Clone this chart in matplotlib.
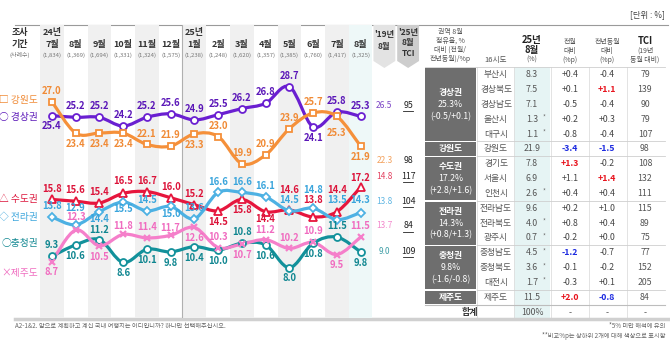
import numpy as np
import matplotlib
matplotlib.use('Agg')
import matplotlib.pyplot as plt
import matplotlib.transforms as mtransforms
from matplotlib.path import Path
from matplotlib.patches import PathPatch, Rectangle, Polygon

plt.rcParams['font.family'] = ['Noto Sans CJK KR', 'DejaVu Sans']

# ---- data -------------------------------------------------------------
years = ['24년', '', '', '', '', '', '25년', '', '', '', '', '', '', '']
months = ['7월', '8월', '9월', '10월', '11월', '12월', '1월', '2월', '3월', '4월', '5월', '6월', '7월', '8월']
samples = ['1,834', '1,369', '1,694', '1,331', '1,324', '1,575', '1,238',
           '1,248', '1,620', '1,357', '1,385', '1,760', '1,417', '1,325']

names = ['경상권', '강원도', '수도권', '전라권', '충청권', '제주도']
gyeongsang = [25.4, 25.2, 25.2, 24.2, 25.2, 25.6, 24.9, 25.5, 26.2, 26.8, 28.7, 24.1, 25.8, 25.3]
gangwon = [27.0, 23.4, 23.4, 23.4, 22.1, 21.9, 23.3, 23.0, 19.9, 20.9, 23.9, 25.7, 25.3, 21.9]
sudo = [15.8, 15.6, 15.4, 16.5, 16.7, 16.0, 15.2, 14.5, 15.8, 14.4, 14.6, 13.8, 14.4, 17.2]
jeolla = [13.8, 12.9, 14.4, 15.5, 14.5, 15.0, 13.6, 16.6, 16.6, 16.1, 14.5, 14.8, 13.5, 14.3]
chungcheong = [9.3, 10.6, 11.2, 8.6, 10.1, 9.8, 10.4, 10.0, 10.8, 10.6, 8.0, 10.8, 11.5, 9.8]
jeju = [8.7, 12.3, 10.5, 11.8, 11.4, 11.7, 12.6, 10.3, 10.7, 11.2, 10.2, 10.9, 9.5, 11.5]
aug19 = [26.5, 22.3, 14.8, 13.8, 9.0, 13.7]
tci = [95, 98, 117, 104, 109, 84]

# table
groups = ['경상권', '강원도', '수도권', '전라권', '충청권', '제주도']
group_share = ['25.3%', '', '17.2%', '14.3%', '9.8%', '']
group_diff = ['(-0.5/+0.1)', '', '(+2.8/+1.6)', '(+0.8/+1.3)', '(-1.6/-0.8)', '']
group_rows = [5, 1, 3, 3, 3, 1]
provinces = ['부산시', '경상북도', '경상남도', '울산시', '대구시', '강원도', '경기도', '서울시',
             '인천시', '전라남도', '전라북도', '광주시', '충청남도', '충청북도', '대전시', '제주도']
share = [8.3, 7.5, 7.1, 1.3, 1.1, 21.9, 7.8, 6.9, 2.6, 9.6, 4.0, 0.7, 4.5, 3.6, 1.7, 11.5]
mom = [0.4, 0.1, -0.5, 0.2, -0.8, -3.4, 1.3, 1.1, 0.4, 0.2, 0.8, -0.2, -1.2, -0.1, -0.3, 2.0]
yoy = [-0.4, 1.1, -0.4, 0.3, -0.4, -1.5, -0.2, 1.4, 0.4, 1.0, 0.4, 0.0, -0.7, -0.2, 0.1, -0.8]
tci16 = [79, 139, 90, 79, 107, 98, 108, 132, 111, 115, 89, 75, 77, 152, 205, 84]

# ---- styles -----------------------------------------------------------
series = [gyeongsang, gangwon, sudo, jeolla, chungcheong, jeju]
line_colors = ['#6a1fd1', '#f5903a', '#e6163d', '#4db1e3', '#12919b', '#f57fca']
text_colors = ['#5b17b8', '#f08a35', '#dc143a', '#3aa5dc', '#0f8690', '#f06cc0']
markers = ['o', 's', '^', 'D', 'o', 'x']
msizes = [5, 5, 5.5, 4.2, 5, 5]
legend_txt = ['○ 경상권', '□ 강원도', '△ 수도권', '◇ 전라권', '○충청권', '×제주도']
legend_dy = [-1, 1, 0, 0, 9.5, -8.5]
# label side: +1 above, -1 below
sides = [
    [-1, 1, 1, 1, 1, 1, 1, 1, 1, 1, 1, -1, 1, 1],
    [1, -1, -1, -1, 1, 1, -1, 1, 1, 1, 1, 1, -1, -1],
    [1, 1, 1, 1, 1, 1, 1, -1, -1, -1, 1, 1, 1, 1],
    [1, 1, -1, -1, 1, -1, 1, 1, 1, 1, 1, 1, 1, 1],
    [1, -1, 1, -1, -1, -1, -1, -1, 1, -1, -1, -1, 1, -1],
    [-1, 1, -1, 1, 1, 1, -1, 1, -1, 1, 1, 1, -1, 1],
]
label_gap = 7.8
gap_override = {(3, 1): 11.8, (5, 1): 9.2, (1, 12): 12, (3, 11): 13, (2, 11): 12,
                (2, 12): 15.5, (3, 12): 14, (2, 10): 14.5, (3, 13): 9, (2, 13): 7,
                (3, 2): 5.2, (4, 2): 7, (2, 9): 4.9, (5, 9): 7, (3, 5): 5.2, (5, 5): 5.5,
                (3, 3): 5, (5, 3): 6.2, (2, 3): 9}
side19_dy = [8, -10, 8, 8, 0.5, 8]

W, H = 670, 341
fig = plt.figure(figsize=(6.7, 3.41), dpi=100)
ov = fig.add_axes([0, 0, 1, 1])
ov.set_xlim(0, W)
ov.set_ylim(H, 0)
ov.axis('off')

ax = fig.add_axes([40 / W, (H - 318) / H, 380 / W, 293 / H])
ax.set_xlim(-0.5, 15.5)
ax.set_ylim(2.24, 35.76)
ax.axis('off')
tr = mtransforms.blended_transform_factory(ax.transData, ov.transData)


def smooth_path(xs, ys):
    pts = np.column_stack([xs, ys]).astype(float)
    n = len(pts)
    verts, codes = [pts[0]], [Path.MOVETO]
    for i in range(n - 1):
        p0, p1 = pts[max(i - 1, 0)], pts[i]
        p2, p3 = pts[i + 1], pts[min(i + 2, n - 1)]
        verts += [p1 + (p2 - p0) / 6, p2 - (p3 - p1) / 6, p2]
        codes += [Path.CURVE4] * 3
    return Path(verts, codes)


# column bands
for i in range(0, 13, 2):
    ax.axvspan(i - 0.5, i + 0.5, color='#f0f0f0', lw=0, zorder=0)
ax.axvspan(12.5, 13.5, color='#eef8f8', lw=0, zorder=0)
ax.axvline(5.5, color='#b0b0b0', lw=0.8, zorder=1)

# header
ov.plot([15, 668], [25, 25], color='#9a9a9a', lw=0.8)
ov.plot([15, 668], [318.5, 318.5], color='#d0d0d0', lw=2.5)
ov.text(20, 32, '조사', ha='center', va='center', fontsize=6.5, fontweight='bold', color='#333')
ov.text(20, 44, '기간', ha='center', va='center', fontsize=6.5, fontweight='bold', color='#333')
ov.text(20, 55, '(사례수)', ha='center', va='center', fontsize=4.3, color='#777')
for i in range(len(months)):
    if years[i]:
        ax.text(i, 32, years[i], transform=tr, ha='center', va='center', fontsize=6.5,
                fontweight='bold', color='#333')
    ax.text(i, 44, months[i], transform=tr, ha='center', va='center', fontsize=6.5,
            fontweight='bold', color='#333')
    ax.text(i, 55, '(' + samples[i] + ')', transform=tr, ha='center', va='center',
            fontsize=4.3, color='#777')

for k, col in [(14, '#e3e3e3'), (15, '#cdcdcd')]:
    ax.add_patch(Polygon([(k - 0.46, 25), (k + 0.46, 25), (k + 0.46, 61), (k, 68), (k - 0.46, 61)],
                         closed=True, fc=col, ec='none', transform=tr, zorder=1))
ax.text(14, 35, "'19년", transform=tr, ha='center', va='center', fontsize=6, fontweight='bold', color='#333')
ax.text(14, 47, '8월', transform=tr, ha='center', va='center', fontsize=6, fontweight='bold', color='#333')
for yy, t in [(32, "'25년"), (43, '8월'), (54, 'TCI')]:
    ax.text(15, yy, t, transform=tr, ha='center', va='center', fontsize=6, fontweight='bold', color='#333')

# lines
x = np.arange(len(months))
for s, vals in enumerate(series):
    c = line_colors[s]
    ax.add_patch(PathPatch(smooth_path(x, vals), fill=False, ec=c, lw=2.3,
                           capstyle='round', joinstyle='round', zorder=3))
    if markers[s] == 'x':
        ax.plot(x, vals, ls='none', marker='x', ms=msizes[s], mec=c, mew=1.6, zorder=4)
    else:
        ax.plot(x, vals, ls='none', marker=markers[s], ms=msizes[s], mfc='white', mec=c,
                mew=1.3, zorder=4)
    for i, v in enumerate(vals):
        gap = gap_override.get((s, i), label_gap)
        ax.annotate(f'{v:.1f}', (i, v), xytext=(0, gap * sides[s][i]), textcoords='offset points',
                    ha='center', va='center', fontsize=6.8, fontweight='bold',
                    color=text_colors[s], zorder=5)
    ax.annotate(legend_txt[s], (0, vals[0]), xytext=(-10, legend_dy[s]), textcoords='offset points',
                ha='right', va='center', fontsize=7, color=text_colors[s])
    ax.annotate(f'{aug19[s]:.1f}', (14, vals[-1]), xytext=(0, side19_dy[s]), textcoords='offset points',
                ha='center', va='center', fontsize=6, style='italic', color=text_colors[s], alpha=0.8)
    ax.annotate(str(tci[s]), (15, vals[-1]), xytext=(0, side19_dy[s]), textcoords='offset points',
                ha='center', va='center', fontsize=6.3, color='#222')
    if names[s] != '강원도':
        ul = mtransforms.offset_copy(ax.transData, fig=fig, x=0, y=side19_dy[s] - 4.2, units='points')
        ax.plot([14.78, 15.22], [vals[-1], vals[-1]], color='#222', lw=0.6, transform=ul)

# ---- table ------------------------------------------------------------
ov.text(665, 15, '[단위 : %]', ha='right', va='center', fontsize=6, color='#444')
hdr = '#555'
for yy, t in [(32, '권역 8월'), (41, '점유율, %'), (50, '대비 (전월/'), (59, '전년동월)/%p')]:
    ov.text(450, yy, t, ha='center', va='center', fontsize=5, color=hdr)
ov.text(496, 60, '16시도', ha='center', va='center', fontsize=5.5, color=hdr)
ov.text(532, 40, '25년', ha='center', va='center', fontsize=6.8, fontweight='bold', color='#222')
ov.text(532, 50, '8월', ha='center', va='center', fontsize=6.8, fontweight='bold', color='#222')
ov.text(532, 60, '(%)', ha='center', va='center', fontsize=5, color=hdr)
for cx, lines in [(570, ['전월', '대비', '(%p)']), (607, ['전년동월', '대비', '(%p)'])]:
    for yy, t in zip([42, 51, 60], lines):
        ov.text(cx, yy, t, ha='center', va='center', fontsize=5, color=hdr)
ov.text(645, 41, 'TCI', ha='center', va='center', fontsize=6.8, fontweight='bold', color='#222')
ov.text(645, 51, '(19년', ha='center', va='center', fontsize=5, color=hdr)
ov.text(645, 60, '동월 대비)', ha='center', va='center', fontsize=5, color=hdr)

row_h = 14.85
top0 = 67.2
n_rows = len(provinces)


def row_y(i):
    return top0 + row_h * (i + 0.5)


ov.add_patch(Rectangle((514, top0), 36, row_h * (n_rows + 1), fc='#e6f4f4', ec='none', zorder=0))
for vx in [476.5, 513.8, 550.6, 589, 626.5]:
    ov.plot([vx, vx], [top0, top0 + row_h * (n_rows + 1)], color='#dedede', lw=0.6, zorder=1)
ov.plot([425, 665], [top0, top0], color='#cfcfcf', lw=0.6)

start = 0
for g, n in enumerate(group_rows):
    y0 = top0 + row_h * start
    ov.add_patch(Rectangle((425, y0 + 0.8), 51, row_h * n - 1.6, fc='#6e6e6e', ec='none', zorder=2))
    cy = y0 + row_h * n / 2
    if group_share[g]:
        ov.text(450.5, cy - 12, groups[g], ha='center', va='center', fontsize=6.3, fontweight='bold',
                color='white', zorder=3)
        ov.text(450.5, cy, group_share[g], ha='center', va='center', fontsize=6.3, color='white', zorder=3)
        ov.text(450.5, cy + 12, group_diff[g], ha='center', va='center', fontsize=6.3, color='white',
                zorder=3)
    else:
        ov.text(450.5, cy, groups[g], ha='center', va='center', fontsize=6.3, fontweight='bold',
                color='white', zorder=3)
    start += n
    ov.plot([477, 665], [top0 + row_h * start] * 2, color='#cfcfcf', lw=0.6, zorder=1)

mom_sorted = sorted(mom)
yoy_sorted = sorted(yoy)


def diff_style(v, srt):
    if v >= srt[-2]:
        return '#e8141e', 'bold'
    if v <= srt[1]:
        return '#1d2be0', 'bold'
    return '#444', 'normal'


for i in range(n_rows):
    yy = row_y(i)
    ov.text(496, yy, provinces[i], ha='center', va='center', fontsize=6.3, color='#555')
    ov.text(532, yy, f'{share[i]:.1f}', ha='center', va='center', fontsize=6.3, color='#555')
    if share[i] < 5:
        ov.text(544, yy - 1.5, '*', ha='center', va='center', fontsize=4.5, color='#777')
    c, w = diff_style(mom[i], mom_sorted)
    ov.text(570, yy, f'{mom[i]:+.1f}', ha='center', va='center', fontsize=6.3, color=c, fontweight=w)
    c, w = diff_style(yoy[i], yoy_sorted)
    ov.text(607, yy, f'{yoy[i]:+.1f}', ha='center', va='center', fontsize=6.3, color=c, fontweight=w)
    ov.text(645, yy, str(tci16[i]), ha='center', va='center', fontsize=6.3, color='#555')

yy = row_y(n_rows)
ov.plot([425, 665], [top0 + row_h * n_rows] * 2, color='#bdbdbd', lw=0.8, zorder=1)
ov.text(470, yy, '합계', ha='center', va='center', fontsize=6.5, fontweight='bold', color='#333')
ov.text(532, yy, '100%', ha='center', va='center', fontsize=6.3, color='#555')
for cx in [570, 607, 645]:
    ov.text(cx, yy, '-', ha='center', va='center', fontsize=6.3, color='#555')

# footnotes
ov.text(15, 326, 'A2-1&2. 앞으로 계획하고 계신 국내 여행지는 어디입니까? 하나만 선택해주십시오.',
        ha='left', va='center', fontsize=4.5, color='#666')
ov.text(665, 326, '*5% 미만 해석에 유의', ha='right', va='center', fontsize=4.5, color='#666')
ov.text(665, 336, '**비교%p는 상하위 2개에 대해 색상으로 표시함', ha='right', va='center',
        fontsize=4.5, color='#666')

fig.savefig('out.png', dpi=100, facecolor='white')
